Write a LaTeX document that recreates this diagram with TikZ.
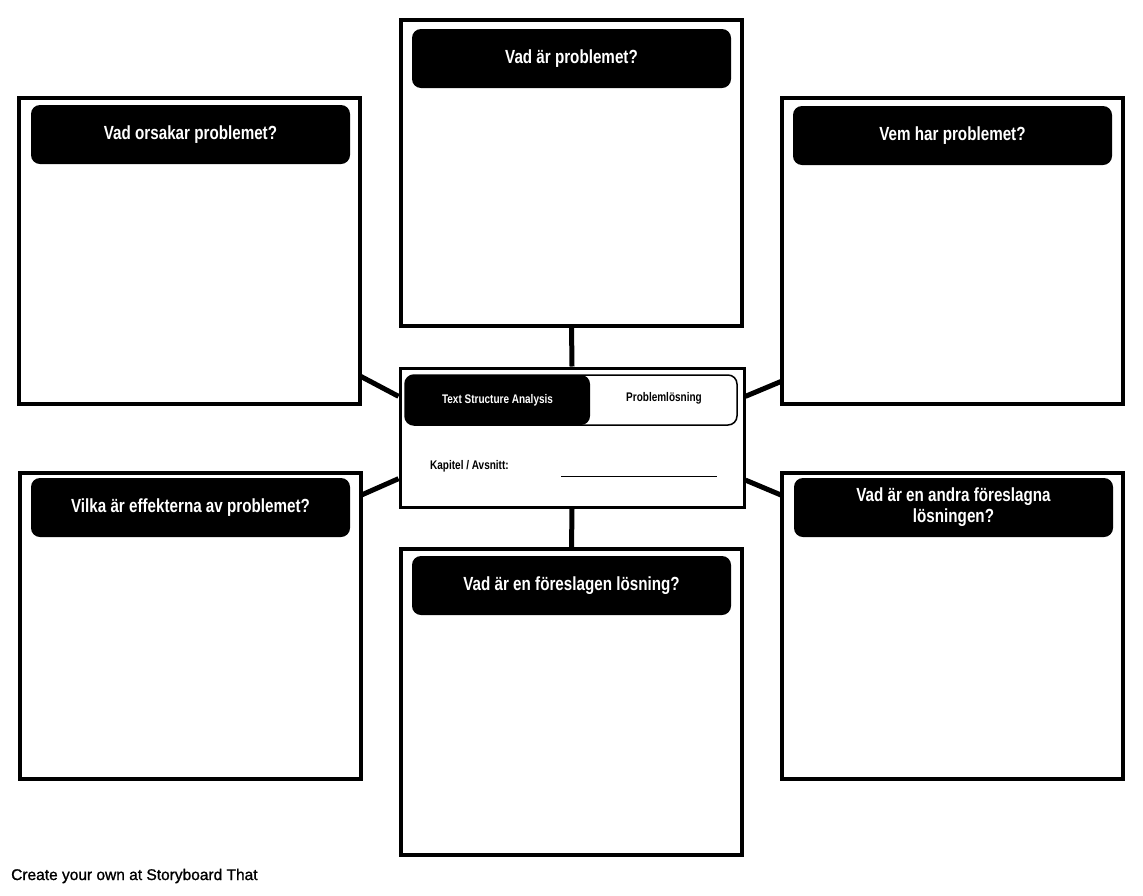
\documentclass[tikz,border=0pt]{standalone}
\usepackage{fontspec}
\setmainfont{Liberation Sans}
\newfontfamily\condfont{Liberation Sans}[FakeStretch=0.8]
\newfontfamily\creditfont{Liberation Sans}[FakeBold=1.2]
\usetikzlibrary{calc}
\tikzset{
  panel/.style={
    draw,
    line width=4pt,
    minimum width=341pt,
    minimum height=306pt,
    inner sep=0pt,
    outer sep=0pt
  },
  head/.style={
    fill=black,
    rounded corners=9pt,
    minimum width=319pt,
    minimum height=59pt,
    inner sep=0pt,
    text=white,
    align=center,
    font=\condfont\bfseries\fontsize{19}{21}\selectfont
  },
  small/.style={
    inner sep=0pt,
    font=\condfont\bfseries\fontsize{12.5}{14}\selectfont
  },
  link/.style={line width=5pt}
}

\begin{document}
\begin{tikzpicture}[x=1pt,y=-1pt]
    \useasboundingbox (0,0) rectangle (1143,895);
    \node[panel] (top) at (571.5,173) {};
    \node[panel] (lu) at (189.5,250.5) {};
    \node[panel] (ru) at (952.5,251) {};
    \node[panel] (ll) at (190,625.5) {};
    \node[panel] (rl) at (952.5,625.5) {};
    \node[panel] (bot) at (571.5,702) {};
    \node[head] (topH) at (571.5,58.5) {Vad är problemet?};
    \node[head] (luH) at (190.5,134.5) {Vad orsakar problemet?};
    \node[head] (ruH) at (952.5,135.5) {Vem har problemet?};
    \node[head] (llH) at (190.5,507.5) {Vilka är effekterna av problemet?};
    \node[head] (rlH) at (953.5,507.5) {Vad är en andra föreslagna\\lösningen?};
    \node[head] (botH) at (571.5,585.5) {Vad är en föreslagen lösning?};
    \node[draw,line width=3pt,minimum width=344pt,minimum height=139pt,inner sep=0pt] (mid) at (572,437.5) {};
    \node[draw,line width=1.5pt,rounded corners=9pt,minimum width=332pt,minimum height=50pt] (tab) at (571,400) {};
    \node[small,fill=black,text=white,rounded corners=9pt,minimum width=185pt,minimum height=50pt] (tabL) at (497.5,400) {Text Structure Analysis};
    \node[small] (tabR) at (664,398) {Problemlösning};
    \node[small,anchor=west] (chap) at (430,466) {Kapitel / Avsnitt:};
    \coordinate (lineA) at (561,476);
    \coordinate (lineB) at (717,476);
    \draw[line width=0.8pt] (lineA) -- (lineB);
    \draw[link] (top.south) -- (mid.north);
    \draw[link] (mid.south) -- (bot.north);
    \draw[link] ($(lu.south east)!0.09!(lu.north east)$) -- ($(mid.north west)!0.21!(mid.south west)$);
    \draw[link] ($(ll.north east)!0.075!(ll.south east)$) -- ($(mid.north west)!0.79!(mid.south west)$);
    \draw[link] ($(ru.south west)!0.075!(ru.north west)$) -- ($(mid.north east)!0.21!(mid.south east)$);
    \draw[link] ($(rl.north west)!0.075!(rl.south west)$) -- ($(mid.north east)!0.8!(mid.south east)$);
    \node[anchor=west,inner sep=0pt,font=\creditfont\fontsize{15.5}{16}\selectfont] (credit) at (11,876) {Create your own at Storyboard That};
\end{tikzpicture}
\end{document}
